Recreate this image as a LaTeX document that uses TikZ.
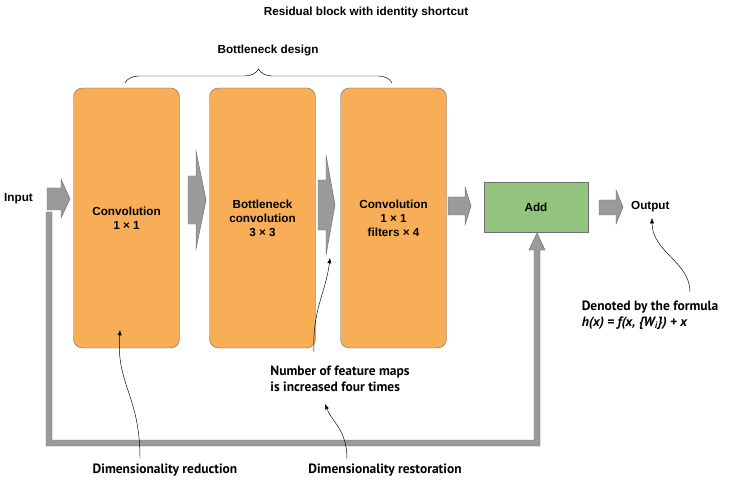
\documentclass[tikz,border=0pt]{standalone}
\usepackage{fontspec}
\setmainfont{Liberation Sans}
\newfontfamily\notefont{PT Sans}
\usetikzlibrary{arrows.meta, positioning, calc, decorations.pathreplacing}
\definecolor{convorange}{HTML}{F7AE57}
\definecolor{addgreen}{HTML}{93C47D}
\definecolor{arrowgray}{HTML}{9A9A9A}
\definecolor{edgegray}{HTML}{6E6E6E}
\newdimen\px \px=0.03cm

\begin{document}
\begin{tikzpicture}[
  x=\px, y=-\px,
  >=Latex,
  font=\bfseries\fontsize{10}{12}\selectfont,
  conv/.style={
    rectangle, rounded corners=9\px,
    draw=edgegray, fill=convorange, align=center,
    minimum width=106\px, minimum height=260\px
  },
  addbox/.style={rectangle, draw=edgegray, fill=addgreen, minimum width=104\px, minimum height=50\px},
  note/.style={font=\notefont\bfseries\fontsize{11.5}{13.5}\selectfont, align=left},
  flow/.style={fill=arrowgray, draw=edgegray, line width=0.4pt},
  ann/.style={->, thin, >={Latex[length=4.5pt,width=3.5pt]}},
]
\useasboundingbox (0,0) rectangle (733,485);

% --- title + brace ---
\node (title) at (366,12) {Residual block with identity shortcut};
\node (design) at (268,50) {Bottleneck design};
\draw[decorate, decoration={brace, amplitude=14\px}]
  (125,83) -- (392,83);

% --- blocks ---
\node[conv] (conv1) at (126.5,218) {Convolution\\ 1 × 1};
\node[conv] (conv2) at (262.5,218) {Bottleneck\\ convolution\\ 3 × 3};
\node[conv] (conv3) at (393.5,218) {Convolution\\ 1 × 1\\ filters × 4};
\node[addbox] (add) at (536,207) {Add};
\node[anchor=east] (input) at (37,199) {Input};
\node[anchor=west] (output) at (627,207) {Output};

% --- block arrows ---
\draw[flow] (47,188) -- (61,188) -- (61,179) -- (70,199) -- (61,218) -- (61,210) -- (47,210) -- cycle;
\draw[flow] (188,176) -- (196,176) -- (196,151) -- (206,200) -- (196,249) -- (196,224) -- (188,224) -- cycle;
\draw[flow] (318,180) -- (326,180) -- (326,155) -- (335,205) -- (326,255) -- (326,230) -- (318,230) -- cycle;
\draw[flow] (448,197) -- (465,197) -- (465,187) -- (471,206) -- (465,225) -- (465,215) -- (448,215) -- cycle;
\draw[flow] (599,200) -- (616,200) -- (616,190) -- (623,207) -- (616,224) -- (616,215) -- (599,215) -- cycle;

% --- identity shortcut ---
\draw[flow] (46,212) -- (52,212) -- (52,440) -- (534,440) -- (534,250) -- (529,250)
  -- (537,233) -- (545,250) -- (540,250) -- (540,446) -- (46,446) -- cycle;

% --- notes ---
\node[note] (dimred) at (165,470) {Dimensionality reduction};
\node[note] (dimres) at (385,470) {Dimensionality restoration};
\node[note] (feat) at (340,379) {Number of feature maps\\ is increased four times};
\node[note] (formula) at (650,315) {Denoted by the formula\\ \itshape h(x) = f(x, \{W\textsubscript{i}\}) + x};

\draw[ann] (140,459) .. controls (140,395) and (116,385) .. (120,330);
\draw[ann] (347,459) .. controls (347,430) and (332,422) .. (325,404);
\draw[ann] (314,352) .. controls (312,310) and (326,292) .. (330,258);
\draw[ann] (690,292) .. controls (690,262) and (652,252) .. (652,218);
\end{tikzpicture}
\end{document}
